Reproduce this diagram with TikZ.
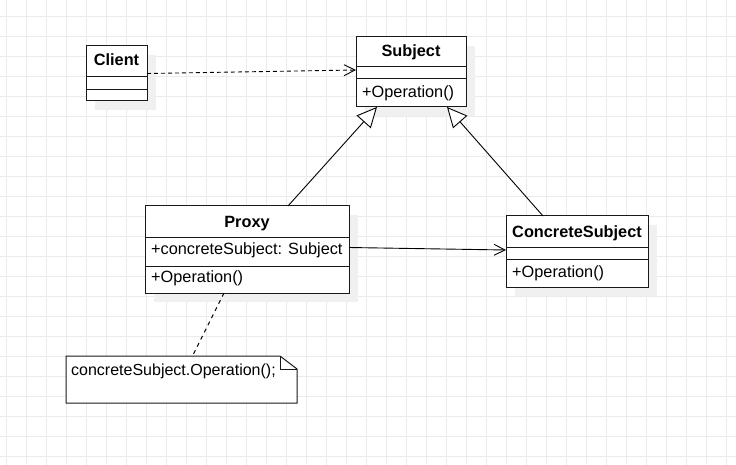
\documentclass[tikz,border=0pt]{standalone}
\usepackage{fontspec}
\setmainfont{Liberation Sans}
\usetikzlibrary{arrows.meta, positioning, shadows}

\begin{document}
\begin{tikzpicture}[x=1pt, y=-1pt,
      gridline/.style={draw=black!8, line width=0.8pt},
      cls/.style={draw=black!90, fill=white, line width=1pt, inner sep=0pt, outer sep=0pt,
        general shadow={fill=black!6, shadow xshift=9pt, shadow yshift=-9pt}},
      sep/.style={draw=black!90, line width=1pt},
      clsname/.style={font=\fontsize{16.3}{19}\selectfont\bfseries, anchor=base, inner sep=0pt},
      member/.style={font=\fontsize{16.3}{19}\selectfont, anchor=base west, inner sep=0pt},
      dep/.style={-{Straight Barb[length=11pt, width=11pt]}, dash pattern=on 4pt off 3pt, line width=0.9pt},
      assoc/.style={-{Straight Barb[length=11pt, width=11pt]}, line width=0.9pt},
      gen/.style={-{Triangle[open, fill=white, length=20pt, width=19pt]}, line width=0.9pt},
      noteline/.style={dash pattern=on 4pt off 4pt, line width=1pt}
    ]
      \useasboundingbox (0,0) rectangle (736,465);

      % Background grid
      \foreach \gx in {0,...,36}
        \draw[gridline] (6.7+20*\gx,0) -- (6.7+20*\gx,465);
      \foreach \gy in {0,...,22}
        \draw[gridline] (0,16+20*\gy) -- (736,16+20*\gy);

      % Classes
      \node[cls, minimum width=61pt, minimum height=55pt] (client) at (116.5,73.5) {};
      \node[cls, minimum width=110pt, minimum height=70pt] (subject) at (411,72) {};
      \node[cls, minimum width=204pt, minimum height=87pt] (proxy) at (247,249.5) {};
      \node[cls, minimum width=142pt, minimum height=71pt] (concrete) at (577,251.5) {};

      % Compartments
      \draw[sep] ([yshift=-31pt]client.north west) -- ([yshift=-31pt]client.north east);
      \draw[sep] ([yshift=-44pt]client.north west) -- ([yshift=-44pt]client.north east);
      \draw[sep] ([yshift=-30pt]subject.north west) -- ([yshift=-30pt]subject.north east);
      \draw[sep] ([yshift=-42pt]subject.north west) -- ([yshift=-42pt]subject.north east);
      \draw[sep] ([yshift=-31pt]proxy.north west) -- ([yshift=-31pt]proxy.north east);
      \draw[sep] ([yshift=-60pt]proxy.north west) -- ([yshift=-60pt]proxy.north east);
      \draw[sep] ([yshift=-31pt]concrete.north west) -- ([yshift=-31pt]concrete.north east);
      \draw[sep] ([yshift=-43pt]concrete.north west) -- ([yshift=-43pt]concrete.north east);

      % Names and members
      \node[clsname] (clientname) at ([yshift=-20pt]client.north) {Client};
      \node[clsname] (subjectname) at ([yshift=-20pt]subject.north) {Subject};
      \node[member] (subjectop) at ([xshift=6pt, yshift=-61pt]subject.north west) {+Operation()};
      \node[clsname] (proxyname) at ([yshift=-22pt]proxy.north) {Proxy};
      \node[member] (proxyattr) at ([xshift=6pt, yshift=-48pt]proxy.north west) {+concreteSubject: Subject};
      \node[member] (proxyop) at ([xshift=6pt, yshift=-76pt]proxy.north west) {+Operation()};
      \node[clsname] (concretename) at ([yshift=-21pt]concrete.north) {ConcreteSubject};
      \node[member] (concreteop) at ([xshift=6pt, yshift=-61pt]concrete.north west) {+Operation()};

      % Note
      \node[minimum width=231pt, minimum height=47pt, inner sep=0pt, outer sep=0pt] (note) at (181.5,379.5) {};
      \draw[sep, fill=white] (note.north west) -- ([xshift=-17pt]note.north east)
        -- ([yshift=-13pt]note.north east) -- (note.south east) -- (note.south west) -- cycle;
      \draw[sep] ([xshift=-17pt]note.north east) -- ([xshift=-17pt, yshift=-13pt]note.north east)
        -- ([yshift=-13pt]note.north east);
      \node[member, font=\fontsize{16}{19}\selectfont] (notetext) at ([xshift=5pt, yshift=-19pt]note.north west) {concreteSubject.Operation();};

      % Relations
      \draw[dep] (client.east) -- ([yshift=2pt]subject.west);
      \draw[gen] ([xshift=41pt]proxy.north) -- ([xshift=-34pt]subject.south);
      \draw[gen] ([xshift=-34pt]concrete.north) -- ([xshift=36pt]subject.south);
      \draw[assoc] ([yshift=2pt]proxy.east) -- ([yshift=1.5pt]concrete.west);
      \draw[noteline] ([xshift=-23pt]proxy.south) -- ([xshift=11pt]note.north);
    \end{tikzpicture}
\end{document}
